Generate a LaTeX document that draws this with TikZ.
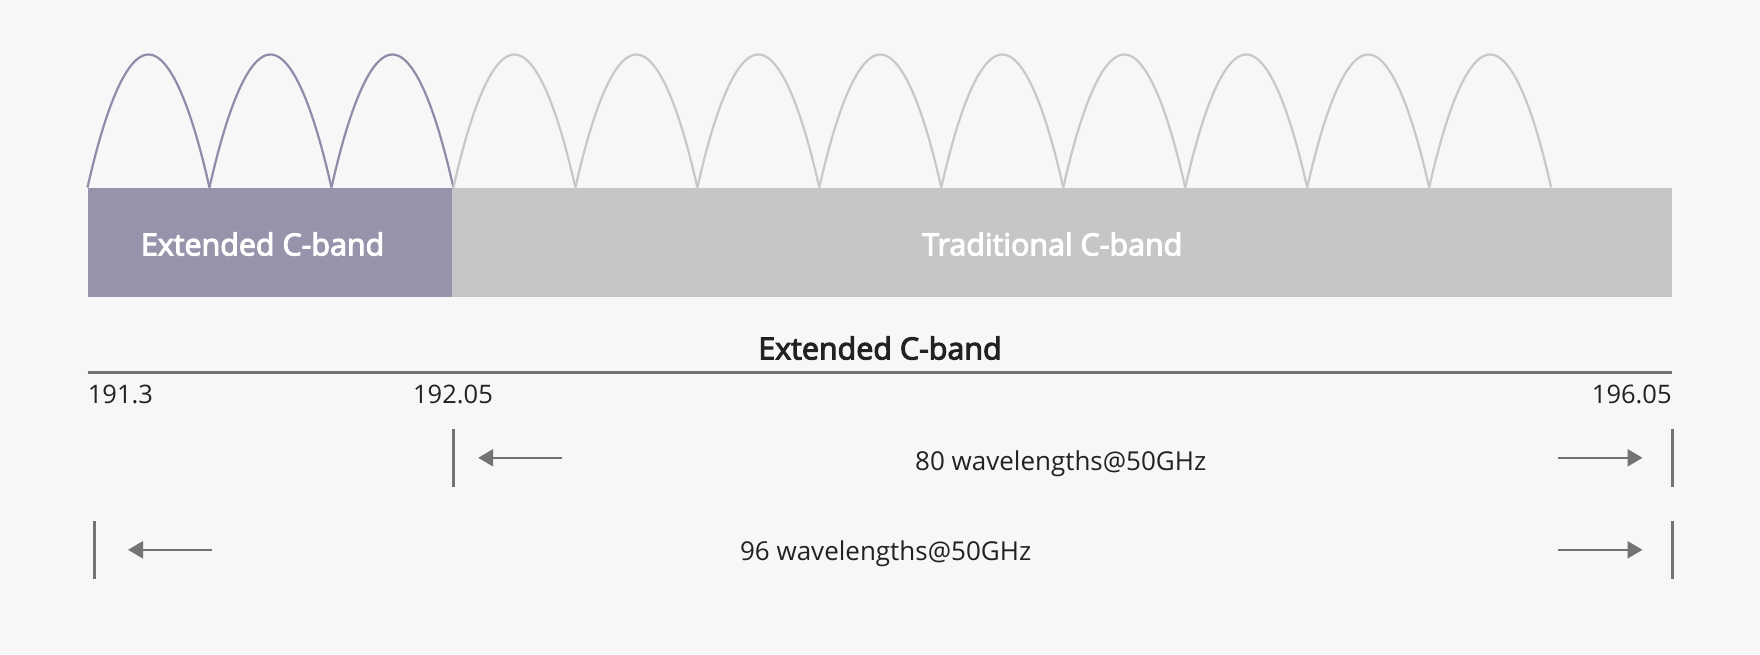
\documentclass[tikz,border=0pt]{standalone}
\usepackage{fontspec}
\setmainfont{Open Sans}
\newfontfamily\semibfont{Open Sans}[FakeBold=3.5]
\usetikzlibrary{arrows.meta}
\definecolor{bg}{HTML}{F7F7F7}
\definecolor{ext}{HTML}{9594AB}
\definecolor{extline}{HTML}{8E8CA8}
\definecolor{trad}{HTML}{C6C6C6}
\definecolor{tradline}{HTML}{C8C8C8}
\definecolor{rulecol}{HTML}{737373}
\definecolor{ink}{HTML}{222222}
\begin{document}
\begin{tikzpicture}[x=0.5pt,y=-0.5pt,
  bandbox/.style={inner sep=0pt, outer sep=0pt, anchor=north west, minimum height=54.95pt},
  bandlabel/.style={text=white, inner sep=0pt, font=\fontsize{15.2}{18}\semibfont},
  archline/.style={line width=1.1pt, line join=round},
  rulestyle/.style={draw=rulecol, line width=1.3pt},
  freqlabel/.style={text=ink, inner sep=0pt, font=\fontsize{12.75}{15}\selectfont},
  countlabel/.style={text=ink, inner sep=0pt, font=\fontsize{13}{15}\selectfont},
  titlelabel/.style={text=ink, inner sep=0pt, font=\fontsize{15.2}{18}\semibfont},
  dimarrow/.style={draw=rulecol, line width=1.25pt, -{Triangle[length=7.5pt,width=8.5pt]}},
  tickbar/.style={draw=rulecol, line width=1.3pt}]
\fill[bg] (0,0) rectangle (1760,654);
\useasboundingbox (0,0) rectangle (1760,654);

% bands
\node[bandbox, fill=trad, minimum width=610.65pt] (tradbox) at (451.1,187.5) {};
\node[bandbox, fill=ext, minimum width=182.4pt] (extbox) at (87.5,187.5) {};
\node[bandlabel] (extlabel) at (262.6,244) {Extended C-band};
\node[bandlabel] (tradlabel) at (1052.3,244) {Traditional C-band};

% channel arches
\foreach \i in {0,...,11}{
  \pgfmathsetmacro{\xa}{87.5+\i*121.97}
  \pgfmathsetmacro{\xm}{\xa+60.985}
  \pgfmathsetmacro{\xb}{\xa+121.97}
  \ifnum\i<3
    \draw[archline, draw=extline] (\xa,187.5) parabola bend (\xm,54.5) (\xb,187.5);
  \else
    \draw[archline, draw=tradline] (\xa,187.5) parabola bend (\xm,54.5) (\xb,187.5);
  \fi
}

% title and rule
\node[titlelabel] (title) at (880,348) {Extended C-band};
\coordinate (ruleL) at (87.5,372.6);
\coordinate (ruleR) at (1672.4,372.6);
\draw[rulestyle] (ruleL) -- (ruleR);

\node[freqlabel, anchor=west] (f1) at (87.5,394.5) {191.3};
\node[freqlabel] (f2) at (453,394.5) {192.05};
\node[freqlabel, anchor=east] (f3) at (1672,394.5) {196.05};

% 80 wavelengths row
\coordinate (b1t) at (453.5,429);
\coordinate (b1b) at (453.5,487.3);
\coordinate (b2t) at (1672.6,429);
\coordinate (b2b) at (1672.6,487.3);
\draw[tickbar] (b1t) -- (b1b);
\draw[tickbar] (b2t) -- (b2b);
\coordinate (a1s) at (562.3,457.8);
\coordinate (a1e) at (478.2,457.8);
\coordinate (a2s) at (1558,457.8);
\coordinate (a2e) at (1642.5,457.8);
\draw[dimarrow] (a1s) -- (a1e);
\draw[dimarrow] (a2s) -- (a2e);
\node[countlabel] (c80) at (1060.7,463.5) {80 wavelengths@50GHz};

% 96 wavelengths row
\coordinate (b3t) at (94.3,521);
\coordinate (b3b) at (94.3,579.3);
\coordinate (b4t) at (1672.6,521);
\coordinate (b4b) at (1672.6,579.3);
\draw[tickbar] (b3t) -- (b3b);
\draw[tickbar] (b4t) -- (b4b);
\coordinate (a3s) at (212,549.8);
\coordinate (a3e) at (128,549.8);
\coordinate (a4s) at (1558,549.8);
\coordinate (a4e) at (1642.5,549.8);
\draw[dimarrow] (a3s) -- (a3e);
\draw[dimarrow] (a4s) -- (a4e);
\node[countlabel] (c96) at (885.6,553.5) {96 wavelengths@50GHz};
\end{tikzpicture}
\end{document}
